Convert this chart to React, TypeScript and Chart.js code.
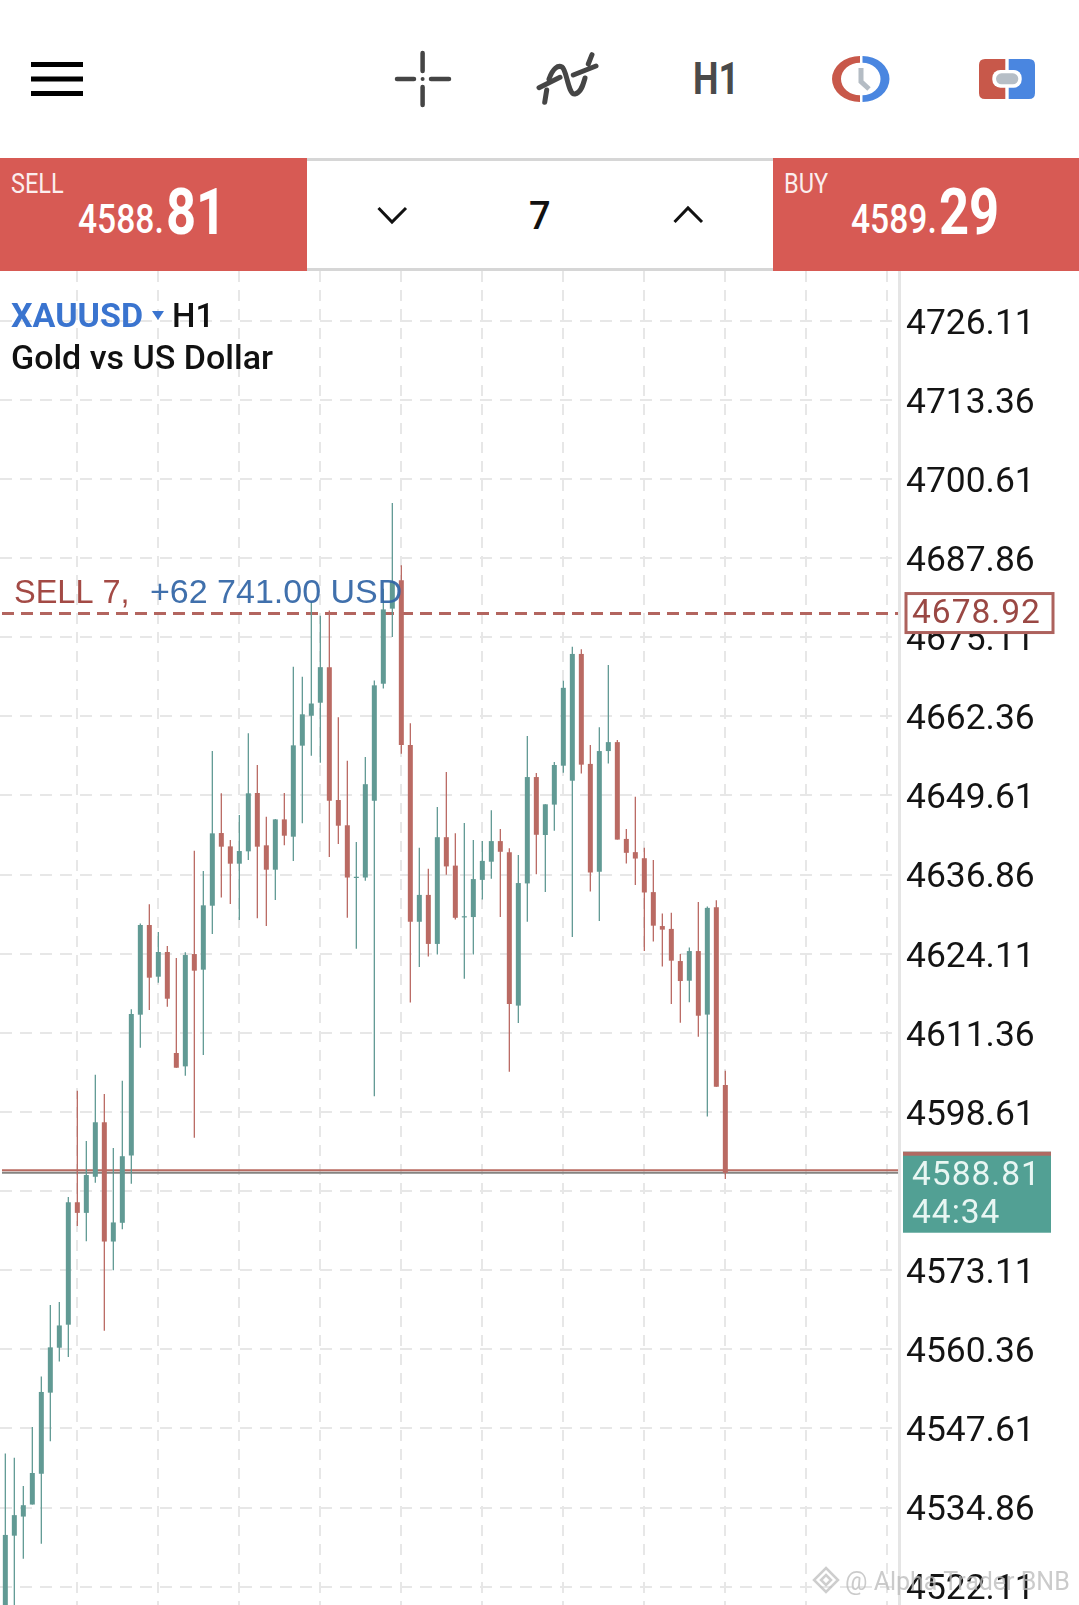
import React, { useEffect, useRef } from "react";
import { Chart, registerables } from "chart.js";

Chart.register(...registerables);

// Candles, oldest first
const opens = [4517.0,4530.32,4533.40,4535.34,4540.30,4553.37,4560.61,4564.32,4584.05,4582.34,4588.16,4596.94,4577.72,4580.74,4591.58,4614.28,4628.73,4620.40,4624.38,4608.10,4605.95,4624.05,4621.53,4631.84,4643.55,4641.40,4638.61,4640.60,4650.00,4641.57,4637.64,4645.75,4642.96,4657.63,4662.45,4664.55,4670.28,4648.87,4644.80,4636.30,4636.38,4648.75,4667.61,4679.71,4684.30,4657.73,4629.25,4633.58,4625.68,4642.88,4638.30,4629.95,4630.01,4636.00,4638.93,4642.25,4640.46,4615.74,4635.43,4652.57,4643.23,4648.13,4654.40,4651.98,4672.41,4654.69,4637.31,4656.76,4658.20,4642.60,4640.47,4639.49,4634.03,4628.56,4628.10,4622.92,4619.75,4624.53,4614.29,4631.61,4602.95];
const highs = [4543.55,4542.87,4538.31,4547.83,4555.99,4567.51,4567.97,4584.91,4602.02,4593.92,4604.59,4601.51,4592.78,4603.62,4615.14,4628.99,4632.06,4627.60,4625.34,4623.41,4624.32,4640.71,4637.43,4656.77,4649.95,4642.42,4646.45,4659.62,4654.51,4646.19,4645.81,4650.00,4670.36,4668.75,4680.80,4678.57,4679.40,4662.19,4655.18,4642.12,4655.82,4668.12,4682.90,4696.73,4686.72,4661.24,4641.16,4637.79,4647.73,4653.40,4643.52,4645.18,4642.44,4642.25,4647.22,4644.22,4641.10,4640.02,4659.20,4653.21,4648.18,4654.98,4668.10,4673.56,4673.16,4657.74,4660.61,4670.63,4658.54,4644.21,4649.39,4641.16,4639.21,4630.57,4630.69,4624.07,4625.11,4632.42,4631.72,4632.70,4605.25];
const lows = [4510.0,4515.0,4526.61,4535.34,4529.01,4545.55,4558.38,4559.13,4580.23,4577.78,4587.19,4563.35,4573.10,4579.72,4587.02,4608.96,4615.03,4619.43,4615.56,4605.73,4604.44,4594.45,4607.78,4627.28,4633.18,4632.11,4629.53,4639.20,4629.80,4628.57,4632.76,4641.57,4639.04,4645.11,4656.01,4654.86,4639.70,4641.80,4629.89,4624.91,4635.88,4601.15,4666.84,4675.13,4656.33,4616.25,4621.98,4623.64,4623.96,4636.83,4629.63,4620.07,4623.96,4632.82,4636.19,4630.01,4605.10,4612.94,4629.25,4636.89,4634.03,4643.93,4653.25,4626.78,4653.13,4634.14,4629.37,4654.74,4642.49,4638.63,4635.18,4624.53,4626.08,4622.06,4616.01,4612.96,4616.30,4610.72,4597.88,4602.66,4587.81];
const closes = [4530.44,4533.63,4535.23,4540.42,4553.48,4560.67,4564.20,4584.05,4582.34,4588.44,4596.94,4577.72,4580.80,4591.47,4614.38,4628.73,4620.24,4624.38,4616.85,4605.73,4623.89,4621.37,4631.90,4643.50,4641.35,4638.61,4640.65,4649.95,4641.35,4637.64,4645.75,4643.12,4657.68,4662.68,4664.42,4670.28,4648.75,4644.73,4636.38,4636.50,4651.42,4667.35,4679.59,4684.05,4657.73,4629.25,4633.58,4625.68,4642.88,4638.17,4629.89,4630.14,4636.13,4639.06,4642.25,4640.53,4615.99,4635.49,4652.57,4643.27,4648.18,4654.51,4666.95,4672.41,4654.57,4637.19,4656.76,4658.20,4642.49,4640.36,4639.44,4633.97,4628.62,4627.98,4622.98,4619.70,4624.53,4614.11,4631.49,4602.66,4588.79];

const priceTicks = [4522.11,4534.86,4547.61,4560.36,4573.11,4585.86,4598.61,4611.36,4624.11,4636.86,4649.61,4662.36,4675.11,4687.86,4700.61,4713.36,4726.11];
const gridCandles = [8,17,26,35,44,53,62,71,80,89,98];
const hiddenTickLabels = [4585.86];
const sellPrice = 4678.92;
const bidPrice = 4588.81;
const askLinePrice = 4589.2;
const countdown = "44:34";
const lineSpan = [-0.37, 99.19];

const indices = opens.map((_, i) => i);
const GREEN = "#619a94";
const RED = "#ba6a63";
const candleColor = (i: number) => (closes[i] >= opens[i] ? GREEN : RED);

const tagsPlugin = {
  id: "priceTags",
  afterDraw(chart: any) {
    const { ctx } = chart;
    const y = chart.scales.y;
    const sellY = y.getPixelForValue(sellPrice);
    const bidY = y.getPixelForValue(bidPrice);
    ctx.save();
    // open order tag
    ctx.fillStyle = "#ffffff";
    ctx.strokeStyle = "#ad625d";
    ctx.lineWidth = 3;
    ctx.fillRect(906, sellY - 20, 147, 39);
    ctx.strokeRect(906, sellY - 20, 147, 39);
    ctx.font = "33.5px Roboto";
    ctx.textBaseline = "middle";
    ctx.textAlign = "left";
    ctx.letterSpacing = "1px";
    ctx.fillStyle = "#9a4844";
    ctx.fillText(sellPrice.toFixed(2), 912, sellY + 1);
    // current price tag
    ctx.fillStyle = "#52a094";
    ctx.fillRect(903, bidY - 21, 148, 81);
    ctx.fillStyle = "#b06a62";
    ctx.fillRect(903, bidY - 21, 148, 4);
    ctx.fillStyle = "#e8f6f3";
    ctx.fillText(bidPrice.toFixed(2), 912, bidY + 4);
    ctx.fillText(countdown, 912, bidY + 42);
    // order label
    ctx.letterSpacing = "0px";
    ctx.font = "32.5px 'Liberation Sans'";
    ctx.fillStyle = "#a34a45";
    ctx.fillText("SELL 7,", 14, sellY - 20);
    ctx.font = "34px 'Liberation Sans'";
    ctx.fillStyle = "rgba(48,100,165,0.92)";
    ctx.fillText("+62 741.00 USD", 150, sellY - 20);
    ctx.restore();
  },
};

function Txt(props: { x: number; y: number; size: number; color: string; weight?: number; sx?: number; children: any; font?: string }) {
  const { x, y, size, color, weight = 400, sx = 1, children, font = "Roboto" } = props;
  return (
    <div
      style={{
        position: "absolute",
        left: x,
        top: y,
        fontFamily: font,
        fontSize: size,
        lineHeight: 1,
        fontWeight: weight,
        color,
        whiteSpace: "nowrap",
        transform: `translateY(-50%) scaleX(${sx})`,
        transformOrigin: "left center",
      }}
    >
      {children}
    </div>
  );
}

export default function App() {
  const ref = useRef<HTMLCanvasElement>(null);
  useEffect(() => {
    const chart = new Chart(ref.current as HTMLCanvasElement, {
      type: "bar",
      data: {
        datasets: [
          {
            type: "line",
            data: lineSpan.map((x) => ({ x, y: sellPrice })),
            borderColor: "#b3655f",
            borderWidth: 3,
            borderDash: [12, 7],
            pointRadius: 0,
            order: 4,
          },
          {
            type: "line",
            data: lineSpan.map((x) => ({ x, y: askLinePrice })),
            borderColor: "#b96b62",
            borderWidth: 2,
            pointRadius: 0,
            order: 4,
          },
          {
            type: "line",
            data: lineSpan.map((x) => ({ x, y: bidPrice })),
            borderColor: "#858380",
            borderWidth: 2,
            pointRadius: 0,
            order: 4,
          },
          {
            data: indices.map((i) => ({ x: i, y: [lows[i], highs[i]] })),
            backgroundColor: indices.map(candleColor),
            barThickness: 1.3,
            borderWidth: 0,
            inflateAmount: 0,
            order: 3,
          },
          {
            data: indices.map((i) => ({ x: i, y: [opens[i], closes[i]] })),
            backgroundColor: indices.map(candleColor),
            barThickness: 5,
            minBarLength: 1,
            borderWidth: 0,
            inflateAmount: 0,
            order: 2,
          },
        ],
      } as any,
      options: {
        responsive: false,
        animation: false,
        devicePixelRatio: 1,
        layout: { padding: { top: 271, left: 0, right: 0, bottom: 0 } },
        plugins: { legend: { display: false }, tooltip: { enabled: false } },
        datasets: { bar: { grouped: false } },
        scales: {
          x: {
            type: "linear",
            offset: false,
            min: -0.592,
            max: 99.296,
            grid: { offset: false, color: "#e7e7e7", lineWidth: 2, drawTicks: false },
            border: { display: false, dash: [11, 8] },
            ticks: { display: false },
            afterBuildTicks: (s: any) => {
              s.ticks = gridCandles.map((value) => ({ value }));
            },
            afterFit: (s: any) => {
              s.height = 0;
              s.paddingLeft = 0;
              s.paddingRight = 0;
            },
          },
          y: {
            position: "right",
            min: 4519.15,
            max: 4734.12,
            grid: { color: "#e7e7e7", lineWidth: 2, drawTicks: false },
            border: { display: true, color: "#e5e5e5", width: 3, dash: [12, 8] },
            ticks: {
              color: "#141414",
              font: { family: "Roboto", size: 35.4 },
              padding: 7,
              labelOffset: 4,
              crossAlign: "near",
              callback: (v: any) => (hiddenTickLabels.includes(Number(v)) ? "" : Number(v).toFixed(2)),
            },
            afterBuildTicks: (s: any) => {
              s.ticks = priceTicks.map((value) => ({ value }));
            },
            afterFit: (s: any) => {
              s.width = 180;
              s.paddingTop = 0;
              s.paddingBottom = 0;
            },
          },
        },
      } as any,
      plugins: [tagsPlugin as any],
    });
    return () => chart.destroy();
  }, []);

  const red = "#d75a54";
  return (
    <div style={{ position: "absolute", left: 0, top: 0, width: 1079, height: 1605, overflow: "hidden", background: "#fff" }}>
      <canvas ref={ref} width={1079} height={1605} style={{ position: "absolute", left: 0, top: 0, width: 1079, height: 1605 }} />

      {/* Toolbar and trade panel */}
      <div style={{ position: "absolute", left: 0, top: 0, width: 1079, height: 158, background: "#fff" }} />
      <div style={{ position: "absolute", left: 0, top: 158, width: 1079, height: 113, background: "#fff", borderTop: "3px solid #d6d6d6", borderBottom: "3px solid #d6d6d6", boxSizing: "border-box" }} />
      <div style={{ position: "absolute", left: 0, top: 158, width: 307, height: 113, background: red }} />
      <div style={{ position: "absolute", left: 773, top: 158, width: 306, height: 113, background: red }} />

      <svg width={1079} height={271} style={{ position: "absolute", left: 0, top: 0 }}>
        <rect x={31} y={62} width={52} height={5} fill="#000" />
        <rect x={31} y={76.5} width={52} height={5} fill="#000" />
        <rect x={31} y={91} width={52} height={5} fill="#000" />
        <g stroke="#454545" strokeWidth={4.5} strokeLinecap="round" fill="none">
          <path d="M422.6 53V71M422.6 87V105M397 79H414M431 79H449" />
          <path d="M549 79C553 68 558 65 562 67C567 70 568 95 575 94C581 93 583 85 585 78" strokeWidth={5} />
          <path d="M539 87.7L560 77.3M573.3 75L596 66M546.7 90L544.7 102.3M588.3 64L592 54.7" strokeWidth={5} />
        </g>
        <circle cx={422.6} cy={79} r={2} fill="#454545" />
        <path d="M860 56A28 23 0 0 0 860 102V95.3A19 16.3 0 0 1 860 62.7Z" fill="#c8584a" />
        <path d="M862.5 56A27 23 0 0 1 862.5 102V95.3A18 16.3 0 0 0 862.5 62.7Z" fill="#4a86e0" />
        <path d="M861 68V81.7L869 89" fill="none" stroke="#b4bcc4" strokeWidth={5} />
        <path d="M985 59H1005.3V99H985Q979 99 979 93V65Q979 59 985 59Z" fill="#c8584a" />
        <path d="M1008.7 59H1029Q1035 59 1035 65V93Q1035 99 1029 99H1008.7Z" fill="#4a86e0" />
        <rect x={992.3} y={70} width={29.4} height={17.7} rx={8} fill="#fff" />
        <rect x={996} y={73.3} width={22.3} height={11} rx={5.5} fill="#b6bec6" />
        <path d="M378.5 208L392 222L406 208M674.5 222L688 208L702 222" fill="none" stroke="#111" strokeWidth={3} />
      </svg>

      <Txt x={693} y={79} size={44} weight={700} color="#4a4a4a" sx={0.82}>H1</Txt>
      <Txt x={11} y={184} size={28} color="#fbeeee" sx={0.84}>SELL</Txt>
      <Txt x={78} y={220} size={40} weight={500} color="#fff" sx={0.84}>4588.</Txt>
      <Txt x={166} y={213} size={64} weight={700} color="#fff" sx={0.82}>81</Txt>
      <Txt x={784} y={184} size={28} color="#fbeeee" sx={0.84}>BUY</Txt>
      <Txt x={851} y={220} size={40} weight={500} color="#fff" sx={0.84}>4589.</Txt>
      <Txt x={939} y={213} size={64} weight={700} color="#fff" sx={0.82}>29</Txt>
      <Txt x={529} y={216} size={38} weight={500} color="#111">7</Txt>

      {/* Symbol caption */}
      <Txt x={11} y={315} size={34} weight={700} color="#3a74cf">XAUUSD</Txt>
      <div style={{ position: "absolute", left: 152, top: 311, width: 0, height: 0, borderLeft: "6px solid transparent", borderRight: "6px solid transparent", borderTop: "9px solid #3a74cf" }} />
      <Txt x={172} y={315} size={33} weight={500} color="#111">H1</Txt>
      <Txt x={11} y={357} size={34} weight={500} color="#111">Gold vs US Dollar</Txt>

      {/* Watermark */}
      <svg width={30} height={30} style={{ position: "absolute", left: 811, top: 1565 }}>
        <path d="M15 3L27 15L15 27L3 15Z M15 10L20 15L15 20L10 15Z" fill="none" stroke="rgba(190,190,190,0.75)" strokeWidth={2.5} />
      </svg>
      <Txt x={845} y={1581} size={25} color="rgba(185,185,185,0.75)">@ Alpha Trader BNB</Txt>
    </div>
  );
}
